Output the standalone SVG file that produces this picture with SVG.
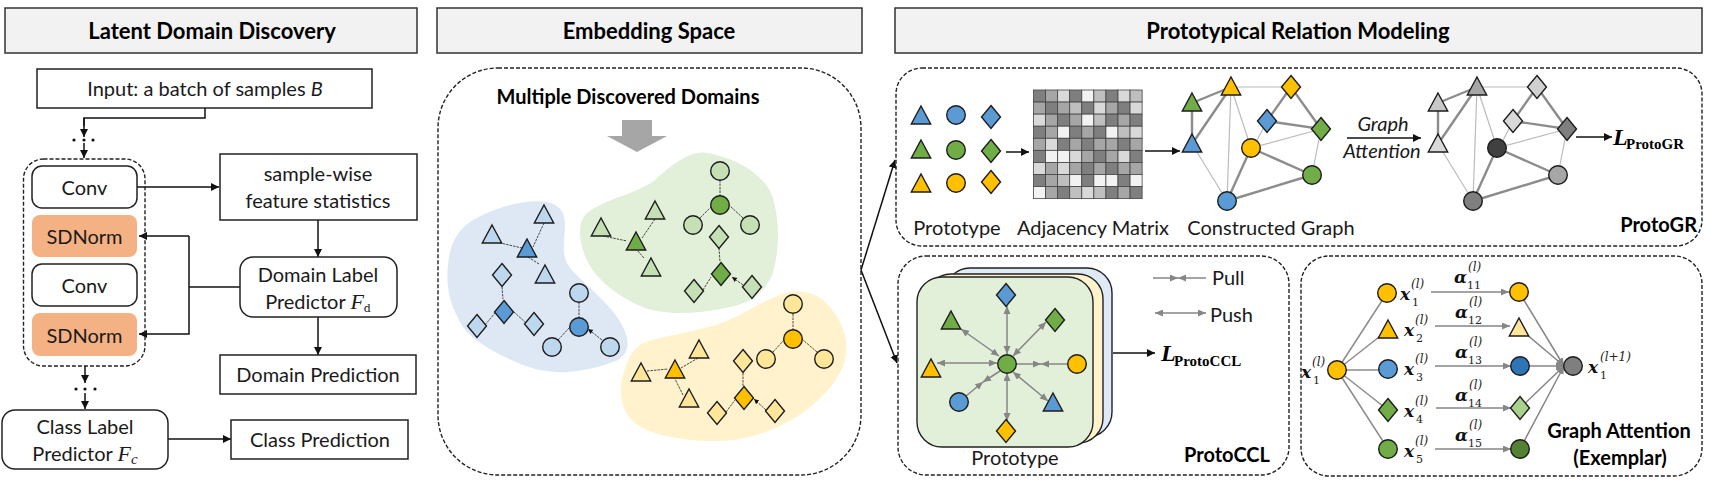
<svg xmlns="http://www.w3.org/2000/svg" xmlns:xlink="http://www.w3.org/1999/xlink" width="1724" height="488" viewBox="0 0 1724 488">
<style>
text{font-family:"Lato","Open Sans","Liberation Sans",sans-serif;fill:#1a1a1a}
.tb{font-size:22px;font-weight:700;text-anchor:middle;fill:#000}
.lb{font-size:20px;text-anchor:middle}
.bd{font-size:20px;font-weight:700;fill:#000}
.mi{font-family:"Liberation Serif","DejaVu Serif",serif;font-style:italic}
.v{font-family:"DejaVu Serif","Liberation Serif",serif;font-style:italic;font-weight:700;font-size:17px;fill:#111}
.s{font-family:"DejaVu Serif","Liberation Serif",serif;font-size:11px;fill:#222}
.si{font-family:"DejaVu Serif","Liberation Serif",serif;font-size:12px;font-style:italic;fill:#222}
.L{font-family:"Liberation Serif",serif;font-style:italic;font-weight:700;font-size:24px;fill:#000}
.Ls{font-family:"Liberation Serif",serif;font-weight:700;font-size:15px;fill:#000}
.title{fill:#f2f2f2;stroke:#333;stroke-width:1.5}
.box{fill:#fff;stroke:#222;stroke-width:1.5}
.org{fill:#f4b183;stroke:none}
.dash{fill:none;stroke:#222;stroke-width:1.4;stroke-dasharray:4 2}
.ar{fill:none;stroke:#111;stroke-width:1.5}
.ar2{fill:none;stroke:#111;stroke-width:1.5;marker-end:url(#mb)}
.sm{fill:none;stroke:#333;stroke-width:.9;stroke-dasharray:2.5 1;marker-end:url(#ms)}
.gr{fill:none;stroke:#868686;stroke-width:1.5;marker-end:url(#mg)}
.gr2{fill:none;stroke:#868686;stroke-width:1.5;marker-end:url(#mg);marker-start:url(#mgs)}
.gl{fill:none;stroke:#8c8c8c;stroke-width:1.5}
.ek{stroke:#8c8c8c;stroke-width:2.4;fill:none}
.en{stroke:#bbb;stroke-width:1.2;fill:none}
use{stroke:#1c1c1c;stroke-width:1.4}
.cB{fill:#5b9bd5}.cb{fill:#bdd7ee}.cG{fill:#70ad47}.cg{fill:#c5e0b4}.cY{fill:#ffc000}.cy{fill:#ffe699}
.k1{fill:#7f7f7f}.k2{fill:#a6a6a6}.k3{fill:#bfbfbf}.k4{fill:#d9d9d9}.k5{fill:#f2f2f2}
#mat rect{stroke:#444;stroke-width:.8;width:12.07px;height:12.07px}
</style>
<defs>
<marker id="mb" markerUnits="userSpaceOnUse" markerWidth="10" markerHeight="10" refX="8" refY="4" orient="auto"><path d="M0,0L8,4L0,8z" fill="#111"/></marker>
<marker id="ms" markerUnits="userSpaceOnUse" markerWidth="7" markerHeight="7" refX="5" refY="2.5" orient="auto"><path d="M0,0L5,2.5L0,5z" fill="#111"/></marker>
<marker id="mg" markerUnits="userSpaceOnUse" markerWidth="10" markerHeight="10" refX="8" refY="3.5" orient="auto"><path d="M0,0L8,3.5L0,7z" fill="#868686"/></marker>
<marker id="mgs" markerUnits="userSpaceOnUse" markerWidth="10" markerHeight="10" refX="0" refY="3.5" orient="auto"><path d="M8,0L0,3.5L8,7z" fill="#868686"/></marker>
<polygon id="t" points="0,-10 9.7,8 -9.7,8"/>
<circle id="c" r="9.3"/>
<polygon id="d" points="0,-11.5 9.5,0 0,11.5 -9.5,0"/>
<g id="edges">
<path class="ek" d="M1192,103L1231,87M1192,103V144M1192,144L1231,87M1251,148L1227,201L1312,175M1251,148L1312,175M1267,121L1291,87L1321,129L1267,121"/>
<path class="en" d="M1231,87H1291M1231,87L1227,201M1231,87L1251,148M1192,144L1227,201M1251,148L1321,129M1267,121L1253,148M1321,129L1312,175"/>
</g>
</defs>

<g id="panel-titles">
<rect class="title" x="5" y="8" width="412" height="45"/>
<text class="tb" x="212" y="39">Latent Domain Discovery</text>
<rect class="title" x="437" y="8" width="425" height="45"/>
<text class="tb" x="649" y="39">Embedding Space</text>
<rect class="title" x="895" y="8" width="807" height="45"/>
<text class="tb" x="1298" y="39">Prototypical Relation Modeling</text>
</g>

<g id="connectors">
<path class="ar" d="M205,108V118H84V126"/>
<path class="ar2" d="M84,118V137"/>
<path class="ar2" d="M84,143V158"/>
<path class="ar2" d="M137,187H219"/>
<path class="ar2" d="M318,220V257"/>
<path class="ar2" d="M318,317V355"/>
<path class="ar" d="M240,287H189"/>
<path class="ar2" d="M189,236H139"/>
<path class="ar2" d="M189,236V334H139"/>
<path class="ar2" d="M85,366V383"/>
<path class="ar2" d="M85,393V409"/>
<path class="ar2" d="M168,439H231"/>
<path class="ar2" d="M861,270L895,160"/>
<path class="ar2" d="M861,270L897,363"/>
<path class="ar2" d="M1006,152H1029"/>
<path class="ar2" d="M1145,151H1180"/>
<path class="ar2" d="M1347,138H1421"/>
<path class="ar2" d="M1576,137H1612"/>
<path class="ar2" d="M1113,353H1155"/>
</g>
<g id="dots" fill="#111"><circle cx="74" cy="140" r="1.6"/><circle cx="84" cy="140" r="1.6"/><circle cx="93" cy="140" r="1.6"/><circle cx="76" cy="389" r="1.6"/><circle cx="85" cy="389" r="1.6"/><circle cx="95" cy="389" r="1.6"/></g>

<g id="input"><rect class="box" x="37" y="69" width="335" height="39"/><text class="lb" x="205" y="96">Input: a batch of samples <tspan font-style="italic">B</tspan></text></g>
<rect class="dash" x="23.5" y="159" width="121.5" height="207" rx="20"/>
<g id="conv1"><rect class="box" x="32" y="166" width="105" height="42" rx="10"/><text class="lb" x="84.500" y="195">Conv</text></g>
<g id="sdnorm1"><rect class="org" x="32" y="215" width="105" height="42" rx="8"/><text class="lb" x="84.500" y="244">SDNorm</text></g>
<g id="conv2"><rect class="box" x="32" y="264" width="105" height="42" rx="10"/><text class="lb" x="84.500" y="293">Conv</text></g>
<g id="sdnorm2"><rect class="org" x="32" y="313" width="105" height="43" rx="8"/><text class="lb" x="84.500" y="343">SDNorm</text></g>
<g id="stats"><rect class="box" x="220" y="154" width="197" height="66"/><text class="lb" x="318" y="181">sample-wise</text><text class="lb" x="318" y="208">feature statistics</text></g>
<g id="domain-predictor"><rect class="box" x="240" y="257" width="157" height="60" rx="13"/><text class="lb" x="318" y="282">Domain Label</text><text class="lb" x="318" y="309">Predictor <tspan class="mi" font-size="22">F</tspan><tspan class="s" font-size="15" dy="3">d</tspan></text></g>
<g id="domain-prediction"><rect class="box" x="220" y="355" width="196" height="39"/><text class="lb" x="318" y="382">Domain Prediction</text></g>
<g id="class-predictor"><rect class="box" x="2" y="410" width="166" height="59" rx="13"/><text class="lb" x="85" y="434">Class Label</text><text class="lb" x="85" y="461">Predictor <tspan class="mi" font-size="22">F</tspan><tspan class="mi" font-size="15" dy="3">c</tspan></text></g>
<g id="class-prediction"><rect class="box" x="231" y="420" width="177" height="39"/><text class="lb" x="320" y="447">Class Prediction</text></g>

<rect class="dash" x="438" y="68" width="423" height="407" rx="60"/>
<text class="bd" x="628" y="104" text-anchor="middle" font-size="22">Multiple Discovered Domains</text>
<polygon points="622,120 652,120 652,136 667,136 637,152 607,136 622,136" fill="#a6a6a6"/>

<g id="blobs">
<path fill="#dee8f5" d="M547,202C560,205 565,212 565,225C565,240 560,255 570,268C585,285 612,305 622,325C630,340 630,352 618,360C600,368 575,373 555,372C530,370 515,362 495,352C480,343 465,335 458,318C448,300 446,280 448,265C450,245 456,232 470,222C485,212 520,198 547,202Z"/>
<path fill="#e2efd9" d="M707,153C735,158 762,172 772,195C780,220 780,250 772,275C762,298 745,305 720,309C695,314 665,315 645,308C620,298 595,280 586,258C578,240 578,222 586,214C605,198 635,195 655,180C672,165 690,150 707,153Z"/>
<path fill="#fff2cc" d="M643,343C665,335 690,333 715,325C740,317 755,305 775,297C795,288 815,290 828,305C842,320 850,340 845,360C838,385 815,405 795,418C770,432 745,442 710,441C680,440 650,435 635,423C622,412 618,395 623,375C627,360 632,350 643,343Z"/>
</g>
<g id="domain-arrows">
<path class="sm" d="M496,242L522,248M544,223L533,247M539,264L528,257M502,287L503,299M485,325L495,313M526,323L514,312M579,302L579,317M558,340L570,327M602,340L588,329"/>
<path class="sm" d="M603,236L627,241M655,219L642,238M644,258L637,250M720,180L720,195M700,218L711,207M743,218L730,206M719,248L720,262M703,290L711,277M743,285L732,277"/>
<path class="sm" d="M647,371L668,369M698,358L681,368M683,395L675,379M793,314L793,329M773,352L784,340M817,352L803,340M743,373L743,386M726,412L735,400M766,410L754,399"/>
</g>
<g id="domain-blue">
<use href="#t" class="cb" x="492" y="235"/><use href="#t" class="cb" x="544" y="215"/><use href="#t" class="cb" x="545" y="275"/><use href="#t" class="cB" x="527" y="249"/>
<use href="#d" class="cb" x="502" y="275"/><use href="#d" class="cb" x="477" y="326"/><use href="#d" class="cb" x="534" y="324"/><use href="#d" class="cB" x="504" y="312"/>
<use href="#c" class="cb" x="579" y="293"/><use href="#c" class="cb" x="552" y="347"/><use href="#c" class="cb" x="610" y="347"/><use href="#c" class="cB" x="579" y="327"/>
</g>
<g id="domain-green">
<use href="#t" class="cg" x="601" y="228"/><use href="#t" class="cg" x="655" y="211"/><use href="#t" class="cg" x="651" y="268"/><use href="#t" class="cG" x="636" y="242"/>
<use href="#c" class="cg" x="720" y="171"/><use href="#c" class="cg" x="693" y="225"/><use href="#c" class="cg" x="750" y="225"/><use href="#c" class="cG" x="720" y="205"/>
<use href="#d" class="cg" x="719" y="237"/><use href="#d" class="cg" x="694" y="291"/><use href="#d" class="cg" x="752" y="287"/><use href="#d" class="cG" x="721" y="274"/>
</g>
<g id="domain-yellow">
<use href="#t" class="cy" x="641" y="373"/><use href="#t" class="cy" x="699" y="350"/><use href="#t" class="cy" x="689" y="399"/><use href="#t" class="cY" x="675" y="370"/>
<use href="#c" class="cy" x="793" y="304"/><use href="#c" class="cy" x="766" y="359"/><use href="#c" class="cy" x="824" y="359"/><use href="#c" class="cY" x="793" y="339"/>
<use href="#d" class="cy" x="743" y="361"/><use href="#d" class="cy" x="717" y="413"/><use href="#d" class="cy" x="775" y="411"/><use href="#d" class="cY" x="744" y="398"/>
</g>

<rect class="dash" x="896" y="68" width="806" height="178" rx="26"/>
<g id="prototypes">
<use href="#t" class="cB" x="921" y="116"/><use href="#c" class="cB" x="956" y="115"/><use href="#d" class="cB" x="991" y="117"/>
<use href="#t" class="cG" x="921" y="150"/><use href="#c" class="cG" x="956" y="150"/><use href="#d" class="cG" x="991" y="151"/>
<use href="#t" class="cY" x="921" y="184"/><use href="#c" class="cY" x="956" y="183"/><use href="#d" class="cY" x="991" y="182"/>
</g>
<g id="mat" transform="translate(1033.5,90)">
<rect class="k1" x="0" y="0"/><rect class="k2" x="12.07" y="0"/><rect class="k4" x="24.14" y="0"/><rect class="k1" x="36.21" y="0"/><rect class="k5" x="48.28" y="0"/><rect class="k3" x="60.35" y="0"/><rect class="k1" x="72.42" y="0"/><rect class="k4" x="84.49" y="0"/><rect class="k3" x="96.56" y="0"/>
<rect class="k2" x="0" y="12.07"/><rect class="k1" x="12.07" y="12.07"/><rect class="k2" x="24.14" y="12.07"/><rect class="k3" x="36.21" y="12.07"/><rect class="k1" x="48.28" y="12.07"/><rect class="k4" x="60.35" y="12.07"/><rect class="k2" x="72.42" y="12.07"/><rect class="k1" x="84.49" y="12.07"/><rect class="k4" x="96.56" y="12.07"/>
<rect class="k4" x="0" y="24.14"/><rect class="k2" x="12.07" y="24.14"/><rect class="k1" x="24.14" y="24.14"/><rect class="k2" x="36.21" y="24.14"/><rect class="k5" x="48.28" y="24.14"/><rect class="k3" x="60.35" y="24.14"/><rect class="k1" x="72.42" y="24.14"/><rect class="k2" x="84.49" y="24.14"/><rect class="k1" x="96.56" y="24.14"/>
<rect class="k1" x="0" y="36.21"/><rect class="k2" x="12.07" y="36.21"/><rect class="k5" x="24.14" y="36.21"/><rect class="k1" x="36.21" y="36.21"/><rect class="k2" x="48.28" y="36.21"/><rect class="k1" x="60.35" y="36.21"/><rect class="k5" x="72.42" y="36.21"/><rect class="k3" x="84.49" y="36.21"/><rect class="k4" x="96.56" y="36.21"/>
<rect class="k2" x="0" y="48.28"/><rect class="k4" x="12.07" y="48.28"/><rect class="k1" x="24.14" y="48.28"/><rect class="k2" x="36.21" y="48.28"/><rect class="k1" x="48.28" y="48.28"/><rect class="k2" x="60.35" y="48.28"/><rect class="k2" x="72.42" y="48.28"/><rect class="k1" x="84.49" y="48.28"/><rect class="k2" x="96.56" y="48.28"/>
<rect class="k1" x="0" y="60.35"/><rect class="k5" x="12.07" y="60.35"/><rect class="k5" x="24.14" y="60.35"/><rect class="k4" x="36.21" y="60.35"/><rect class="k2" x="48.28" y="60.35"/><rect class="k1" x="60.35" y="60.35"/><rect class="k2" x="72.42" y="60.35"/><rect class="k4" x="84.49" y="60.35"/><rect class="k1" x="96.56" y="60.35"/>
<rect class="k4" x="0" y="72.42"/><rect class="k2" x="12.07" y="72.42"/><rect class="k4" x="24.14" y="72.42"/><rect class="k2" x="36.21" y="72.42"/><rect class="k1" x="48.28" y="72.42"/><rect class="k2" x="60.35" y="72.42"/><rect class="k1" x="72.42" y="72.42"/><rect class="k2" x="84.49" y="72.42"/><rect class="k2" x="96.56" y="72.42"/>
<rect class="k1" x="0" y="84.49"/><rect class="k2" x="12.07" y="84.49"/><rect class="k3" x="24.14" y="84.49"/><rect class="k5" x="36.21" y="84.49"/><rect class="k1" x="48.28" y="84.49"/><rect class="k5" x="60.35" y="84.49"/><rect class="k5" x="72.42" y="84.49"/><rect class="k1" x="84.49" y="84.49"/><rect class="k5" x="96.56" y="84.49"/>
<rect class="k5" x="0" y="96.56"/><rect class="k2" x="12.07" y="96.56"/><rect class="k1" x="24.14" y="96.56"/><rect class="k3" x="36.21" y="96.56"/><rect class="k4" x="48.28" y="96.56"/><rect class="k3" x="60.35" y="96.56"/><rect class="k1" x="72.42" y="96.56"/><rect class="k2" x="84.49" y="96.56"/><rect class="k1" x="96.56" y="96.56"/>
</g>
<g id="graph-colour">
<use href="#edges" style="stroke:none"/>
<use href="#t" class="cG" x="1192" y="103"/><use href="#t" class="cY" x="1231" y="87"/><use href="#t" class="cB" x="1192" y="144"/>
<use href="#c" class="cY" x="1251" y="148"/><use href="#c" class="cB" x="1227" y="201"/><use href="#c" class="cG" x="1312" y="175"/>
<use href="#d" class="cB" x="1267" y="121"/><use href="#d" class="cY" x="1291" y="87"/><use href="#d" class="cG" x="1321" y="129"/>
</g>
<g id="graph-gray">
<use href="#edges" x="246" style="stroke:none"/>
<use href="#t" x="1438" y="103" fill="#c8c8c8"/><use href="#t" x="1477" y="87" fill="#a6a6a6"/><use href="#t" x="1438" y="144" fill="#d9d9d9"/>
<use href="#c" x="1497" y="148" fill="#404040"/><use href="#c" x="1473" y="201" fill="#7f7f7f"/><use href="#c" x="1558" y="175" fill="#a6a6a6"/>
<use href="#d" x="1513" y="121" fill="#d9d9d9"/><use href="#d" x="1537" y="87" fill="#d0d0d0"/><use href="#d" x="1567" y="129" fill="#7f7f7f"/>
</g>
<text class="lb" x="1383" y="131" font-style="italic">Graph</text>
<text class="lb" x="1382" y="158" font-style="italic">Attention</text>
<text x="1613" y="145" class="L">L</text><text x="1626" y="149" class="Ls">ProtoGR</text>
<text class="lb" x="957" y="235">Prototype</text>
<text class="lb" x="1093" y="235">Adjacency Matrix</text>
<text class="lb" x="1271" y="235">Constructed Graph</text>
<text class="bd" x="1697" y="232" text-anchor="end">ProtoGR</text>

<rect class="dash" x="898" y="256" width="391" height="219" rx="28"/>
<g id="stack">
<rect x="945" y="268" width="167" height="169" rx="25" fill="#deebf7" stroke="#222" stroke-width="1.4"/>
<rect x="926" y="274" width="177" height="169" rx="25" fill="#fff2cc" stroke="#222" stroke-width="1.4"/>
<rect x="917" y="277" width="176" height="170" rx="25" fill="#e2f0d9" stroke="#222" stroke-width="1.4"/>
</g>
<g id="ccl-arrows">
<path class="gr2" d="M1007,306V354"/>
<path class="gr2" d="M1046,322L1013,356"/>
<path class="gr2" d="M961,329L999,356"/>
<path class="gr2" d="M937,363H997"/>
<path class="gr2" d="M1048,401L1013,372"/>
<path class="gr2" d="M1007,421V373"/>
<path class="gr" d="M1068,364H1041"/><path class="gr" d="M1016,364H1041"/>
<path class="gr" d="M966,396L983,382"/><path class="gr" d="M1000,371L983,382"/>
</g>
<g id="ccl-nodes">
<use href="#d" class="cB" x="1006" y="295"/><use href="#d" class="cG" x="1055" y="320"/><use href="#t" class="cG" x="951" y="321"/>
<use href="#c" class="cY" x="1077" y="364"/><use href="#t" class="cY" x="931" y="369"/><use href="#c" class="cB" x="959" y="402"/>
<use href="#t" class="cB" x="1053" y="403"/><use href="#d" class="cY" x="1006" y="431"/><use href="#c" class="cG" x="1007" y="364"/>
</g>
<text class="lb" x="1015" y="465">Prototype</text>
<path class="gr" d="M1206,278H1178"/><path class="gr" d="M1153,278H1178"/>
<path class="gr2" d="M1155,313H1206"/>
<text x="1212" y="285" font-size="20">Pull</text>
<text x="1210" y="322" font-size="20">Push</text>
<text x="1161" y="361" class="L">L</text><text x="1174" y="366" class="Ls">ProtoCCL</text>
<text class="bd" x="1270" y="462" text-anchor="end">ProtoCCL</text>

<rect class="dash" x="1301" y="256" width="401" height="220" rx="28"/>
<g id="ga-lines">
<path class="gl" d="M1337,370L1387,293M1337,370L1388,330M1337,370H1388M1337,370L1388,410M1337,370L1388,449"/>
<path class="gr" d="M1431,292H1509"/><path class="gr" d="M1435,326H1510"/><path class="gr" d="M1435,366H1511"/><path class="gr" d="M1436,408H1511"/><path class="gr" d="M1435,449H1511"/>
<path class="gr" d="M1519,292L1564,366"/><path class="gr" d="M1519,328L1564,366"/><path class="gr" d="M1520,366H1564"/><path class="gr" d="M1520,408L1564,366"/><path class="gr" d="M1520,449L1564,366"/>
</g>
<g id="ga-nodes">
<use href="#c" class="cY" x="1337" y="370"/>
<use href="#c" class="cY" x="1387" y="293"/><use href="#t" class="cY" x="1388" y="330"/><use href="#c" class="cB" x="1388" y="369"/><use href="#d" class="cG" x="1388" y="410"/><use href="#c" class="cG" x="1388" y="449"/>
<use href="#c" class="cY" x="1519" y="292"/><use href="#t" class="cy" x="1519" y="328"/><use href="#c" fill="#2e75b6" x="1520" y="366"/><use href="#d" fill="#a9d18e" x="1520" y="408"/><use href="#c" fill="#548235" x="1520" y="449"/>
<use href="#c" fill="#7f7f7f" x="1573" y="366"/>
</g>
<g id="ga-labels">
<text x="1301" y="378"><tspan class="v">x</tspan><tspan class="s" x="1313" y="384">1</tspan><tspan class="si" x="1312" y="366">(l)</tspan></text>
<text x="1400" y="300"><tspan class="v">x</tspan><tspan class="s" x="1412" y="306">1</tspan><tspan class="si" x="1411" y="288">(l)</tspan></text>
<text x="1404" y="336"><tspan class="v">x</tspan><tspan class="s" x="1416" y="342">2</tspan><tspan class="si" x="1415" y="324">(l)</tspan></text>
<text x="1404" y="375"><tspan class="v">x</tspan><tspan class="s" x="1416" y="381">3</tspan><tspan class="si" x="1415" y="363">(l)</tspan></text>
<text x="1404" y="417"><tspan class="v">x</tspan><tspan class="s" x="1416" y="423">4</tspan><tspan class="si" x="1415" y="405">(l)</tspan></text>
<text x="1404" y="457"><tspan class="v">x</tspan><tspan class="s" x="1416" y="463">5</tspan><tspan class="si" x="1415" y="445">(l)</tspan></text>
<text x="1454" y="283"><tspan class="v">α</tspan><tspan class="s" x="1467" y="289">11</tspan><tspan class="si" x="1468" y="271">(l)</tspan></text>
<text x="1455" y="318"><tspan class="v">α</tspan><tspan class="s" x="1468" y="324">12</tspan><tspan class="si" x="1469" y="306">(l)</tspan></text>
<text x="1455" y="358"><tspan class="v">α</tspan><tspan class="s" x="1468" y="364">13</tspan><tspan class="si" x="1469" y="346">(l)</tspan></text>
<text x="1455" y="401"><tspan class="v">α</tspan><tspan class="s" x="1468" y="407">14</tspan><tspan class="si" x="1469" y="389">(l)</tspan></text>
<text x="1455" y="441"><tspan class="v">α</tspan><tspan class="s" x="1468" y="447">15</tspan><tspan class="si" x="1469" y="429">(l)</tspan></text>
<text x="1588" y="373"><tspan class="v">x</tspan><tspan class="s" x="1600" y="379">1</tspan><tspan class="si" x="1600" y="361">(l+1)</tspan></text>
</g>
<text class="bd" x="1619" y="438" text-anchor="middle">Graph Attention</text>
<text class="bd" x="1620" y="465" text-anchor="middle">(Exemplar)</text>
</svg>
